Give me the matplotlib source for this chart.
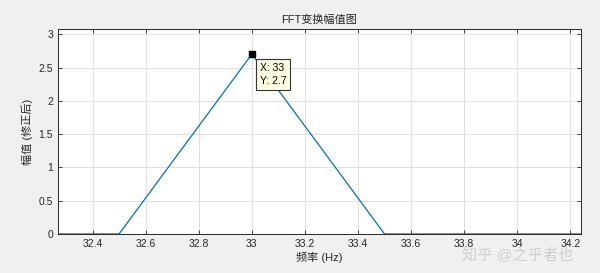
import matplotlib.pyplot as plt

plt.rcParams['font.family'] = ['Liberation Sans', 'Noto Sans CJK SC']

# FFT 幅值数据 (0.5 Hz 分辨率)
freq = [32.0, 32.5, 33.0, 33.5, 34.0, 34.5]
amp = [0, 0, 2.7, 0, 0, 0]
x_ticks = [32.4, 32.6, 32.8, 33, 33.2, 33.4, 33.6, 33.8, 34, 34.2]
tip_x, tip_y = 33, 2.7

fig = plt.figure(figsize=(6, 2.73), dpi=100, facecolor='#f0f0f0')
ax = fig.add_axes([0.0967, 0.143, 0.8716, 0.751])
ax.plot(freq, amp, color='#0072BD', linewidth=0.9)
ax.plot([tip_x], [tip_y], marker='s', color='black', markersize=5)
ax.annotate('X: %g\nY: %g' % (tip_x, tip_y), xy=(tip_x, tip_y), xytext=(6, -6),
            textcoords='offset points', ha='left', va='top', fontsize=7.5,
            linespacing=1.45,
            bbox=dict(boxstyle='square,pad=0.35', fc='#ffffe1', ec='#333333', lw=0.8))

ax.set_xlim(32.27, 34.24)
ax.set_ylim(0, 3.08)
ax.set_xticks(x_ticks)
ax.set_xticklabels(['%g' % t for t in x_ticks])
ax.set_yticks([0, 0.5, 1, 1.5, 2, 2.5, 3])
ax.set_yticklabels(['0', '0.5', '1', '1.5', '2', '2.5', '3'])
ax.tick_params(direction='in', top=True, right=True, labelsize=7.5,
               length=3, colors='#262626', width=0.6)
ax.grid(True, color='#dcdcdc', linewidth=0.6)
ax.set_axisbelow(True)
for s in ax.spines.values():
    s.set_color('#262626')
    s.set_linewidth(0.7)

ax.set_title('FFT变换幅值图', fontsize=8, color='#262626', pad=4)
ax.set_xlabel('频率 (Hz)', fontsize=8, color='#262626', labelpad=2)
ax.set_ylabel('幅值 (修正后)', fontsize=8, color='#262626', labelpad=4)

# 水印
fig.text(0.955, 0.065, '知乎 @之乎者也', ha='right', va='center', fontsize=11,
         color='#cccccc', alpha=0.9)

plt.savefig('out.png', dpi=100, facecolor=fig.get_facecolor())
